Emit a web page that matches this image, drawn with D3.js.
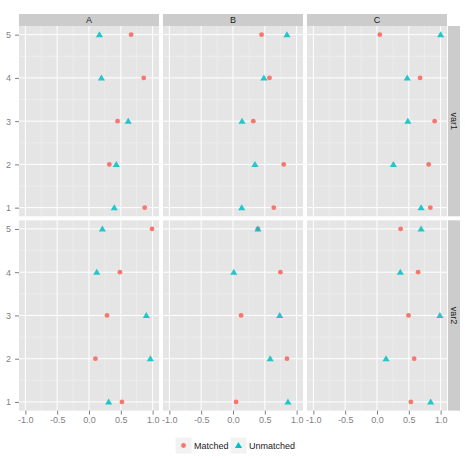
<!DOCTYPE html>
<html>
<head>
<meta charset="utf-8">
<script src="https://cdn.jsdelivr.net/npm/d3@7"></script>
<style>
  body { margin: 0; background: #fff; }
  text { font-family: "Liberation Sans", Arial, sans-serif; }
</style>
</head>
<body>
<div id="chart"></div>
<script>
// facet layout: columns A/B/C, rows var1/var2, y levels 1..5
var cols = ["A", "B", "C"];
var rows = ["var1", "var2"];
var levels = [1, 2, 3, 4, 5];
var xTicks = [-1.0, -0.5, 0.0, 0.5, 1.0];
var groups = ["Matched", "Unmatched"];

// values for levels 1..5, one array per column (A, B, C)
var matchedVar1 = [
  [0.875, 0.32, 0.449, 0.86, 0.662],
  [0.641, 0.797, 0.319, 0.573, 0.449],
  [0.838, 0.812, 0.906, 0.677, 0.044]
];
var unmatchedVar1 = [
  [0.397, 0.429, 0.616, 0.195, 0.164],
  [0.137, 0.345, 0.142, 0.485, 0.848],
  [0.693, 0.257, 0.485, 0.475, 1.0]
];
var matchedVar2 = [
  [0.517, 0.101, 0.283, 0.486, 0.99],
  [0.049, 0.848, 0.127, 0.745, 0.391],
  [0.532, 0.584, 0.495, 0.646, 0.371]
];
var unmatchedVar2 = [
  [0.309, 0.964, 0.901, 0.122, 0.21],
  [0.864, 0.584, 0.734, 0.012, 0.391],
  [0.843, 0.142, 0.989, 0.366, 0.693]
];

var svgWidth = 474;
var svgHeight = 474;

var margin = { top: 14, left: 19 };
var stripH = 12;
var gap = 4;
var panelW = 140;
var panelH = 190.3;

var colors = d3.scaleOrdinal().domain(groups).range(["#F8766D", "#00BFC4"]);

var svg = d3.select("#chart")
  .append("svg")
  .attr("width", svgWidth)
  .attr("height", svgHeight);

var x = d3.scaleLinear().domain([-1.1, 1.1]).range([0, panelW]);
var y = d3.scaleLinear().domain([0.8, 5.2]).range([panelH, 0]);

var fmt = function(d) { return d.toFixed(1); };

var seriesByRow = [
  [matchedVar1, unmatchedVar1],
  [matchedVar2, unmatchedVar2]
];

rows.forEach(function(rowName, ri) {
  cols.forEach(function(colName, ci) {
    var px = margin.left + ci * (panelW + gap);
    var py = margin.top + stripH + ri * (panelH + gap);
    var g = svg.append("g").attr("transform", `translate(${px}, ${py})`);

    // panel background
    g.append("rect")
      .attr("width", panelW)
      .attr("height", panelH)
      .attr("fill", "#E5E5E5");

    // minor grid
    var xMinor = xTicks.slice(1).map(function(d) { return d - 0.25; });
    var yMinor = levels.slice(1).map(function(d) { return d - 0.5; });
    g.selectAll(".xminor").data(xMinor).enter().append("line")
      .attr("x1", d => x(d)).attr("x2", d => x(d))
      .attr("y1", 0).attr("y2", panelH)
      .attr("stroke", "#F2F2F2").attr("stroke-width", 0.5);
    g.selectAll(".yminor").data(yMinor).enter().append("line")
      .attr("y1", d => y(d)).attr("y2", d => y(d))
      .attr("x1", 0).attr("x2", panelW)
      .attr("stroke", "#F2F2F2").attr("stroke-width", 0.5);

    // major grid
    g.selectAll(".xmajor").data(xTicks).enter().append("line")
      .attr("x1", d => x(d)).attr("x2", d => x(d))
      .attr("y1", 0).attr("y2", panelH)
      .attr("stroke", "#FFFFFF").attr("stroke-width", 1);
    g.selectAll(".ymajor").data(levels).enter().append("line")
      .attr("y1", d => y(d)).attr("y2", d => y(d))
      .attr("x1", 0).attr("x2", panelW)
      .attr("stroke", "#FFFFFF").attr("stroke-width", 1);

    // points
    var mVals = seriesByRow[ri][0][ci];
    var uVals = seriesByRow[ri][1][ci];

    g.selectAll(".matched").data(mVals).enter().append("circle")
      .attr("cx", d => x(d))
      .attr("cy", (d, i) => y(levels[i]))
      .attr("r", 2.4)
      .attr("fill", colors("Matched"));

    g.selectAll(".unmatched").data(uVals).enter().append("path")
      .attr("d", d3.symbol().type(d3.symbolTriangle).size(22))
      .attr("transform", (d, i) => `translate(${x(d)}, ${y(levels[i]) + 0.6})`)
      .attr("fill", colors("Unmatched"))
      .attr("opacity", 0.85);

    // top strip
    if (ri === 0) {
      svg.append("rect")
        .attr("x", px).attr("y", margin.top)
        .attr("width", panelW).attr("height", stripH)
        .attr("fill", "#CCCCCC");
      svg.append("text")
        .attr("x", px + panelW / 2).attr("y", margin.top + stripH / 2)
        .attr("dy", "0.35em")
        .attr("text-anchor", "middle")
        .attr("font-size", "9px")
        .attr("fill", "#1A1A1A")
        .text(colName);
    }

    // right strip
    if (ci === cols.length - 1) {
      var sx = px + panelW + 1;
      svg.append("rect")
        .attr("x", sx).attr("y", py)
        .attr("width", stripH).attr("height", panelH)
        .attr("fill", "#CCCCCC");
      svg.append("text")
        .attr("transform", `translate(${sx + stripH / 2}, ${py + panelH / 2}) rotate(90)`)
        .attr("dy", "0.35em")
        .attr("text-anchor", "middle")
        .attr("font-size", "9px")
        .attr("fill", "#1A1A1A")
        .text(rowName);
    }

    // y axis on first column
    if (ci === 0) {
      var leftAxis = d3.axisLeft(y).tickValues(levels).tickSize(4).tickPadding(4)
        .tickFormat(d3.format("d"));
      var ya = g.append("g").call(leftAxis);
      ya.select(".domain").remove();
      ya.selectAll("line").attr("stroke", "#7F7F7F");
      ya.selectAll("text").attr("fill", "#7F7F7F").attr("font-size", "9px")
        .attr("font-family", "Liberation Sans, Arial, sans-serif");
    }

    // x axis on bottom row
    if (ri === rows.length - 1) {
      var bottomAxis = d3.axisBottom(x).tickValues(xTicks).tickSize(4).tickPadding(2)
        .tickFormat(fmt);
      var xa = g.append("g").attr("transform", `translate(0, ${panelH})`).call(bottomAxis);
      xa.select(".domain").remove();
      xa.selectAll("line").attr("stroke", "#7F7F7F");
      xa.selectAll("text").attr("fill", "#7F7F7F").attr("font-size", "9px")
        .attr("font-family", "Liberation Sans, Arial, sans-serif");
    }
  });
});

// legend
var legend = svg.append("g").attr("transform", "translate(175, 437)");
var keyX = [0, 55];
groups.forEach(function(name, i) {
  var k = legend.append("g").attr("transform", `translate(${keyX[i]}, 0)`);
  k.append("rect")
    .attr("width", 17).attr("height", 17)
    .attr("fill", "#F2F2F2")
    .attr("stroke", "#FFFFFF");
  if (i === 0) {
    k.append("circle").attr("cx", 8.5).attr("cy", 8.5).attr("r", 2.4)
      .attr("fill", colors(name));
  } else {
    k.append("path")
      .attr("d", d3.symbol().type(d3.symbolTriangle).size(22))
      .attr("transform", "translate(8.5, 9)")
      .attr("fill", colors(name));
  }
  k.append("text")
    .attr("x", 19).attr("y", 8.5).attr("dy", "0.35em")
    .attr("font-size", "9px")
    .attr("fill", "#1A1A1A")
    .text(name);
});
</script>
</body>
</html>
